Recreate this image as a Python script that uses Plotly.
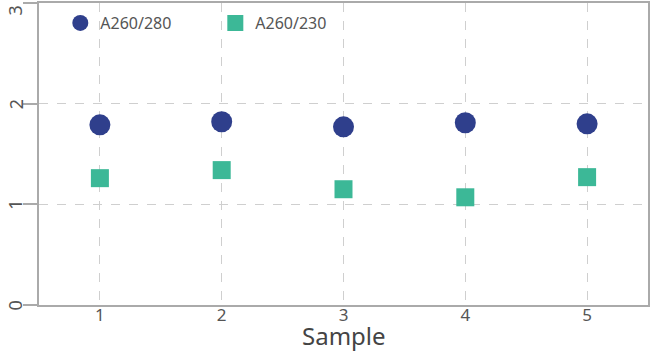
import plotly.graph_objects as go

samples = [1, 2, 3, 4, 5]
a260_280 = [1.79, 1.82, 1.77, 1.81, 1.80]
a260_230 = [1.26, 1.34, 1.15, 1.07, 1.27]
y_ticks = [0, 1, 2, 3]

navy = "#2f3f8c"
teal = "#3cb897"
font = "Noto Sans"

fig = go.Figure()
fig.add_trace(go.Scatter(x=samples, y=a260_280, mode="markers", name="A260/280",
                         marker=dict(symbol="circle", size=21, color=navy)))
fig.add_trace(go.Scatter(x=samples, y=a260_230, mode="markers", name="A260/230",
                         marker=dict(symbol="square", size=18, color=teal)))

fig.update_layout(
    width=650, height=354,
    margin=dict(l=39, r=2, t=3, b=49),
    paper_bgcolor="white", plot_bgcolor="white",
    font=dict(family=font, color="#555555", size=16),
    legend=dict(orientation="h", x=0.035, y=0.99, xanchor="left", yanchor="top",
                bgcolor="rgba(0,0,0,0)", font=dict(size=16, color="#555555"),
                entrywidth=110, entrywidthmode="pixels"),
    xaxis=dict(range=[0.5, 5.5], tickvals=samples, ticks="", showline=True,
               linecolor="#aaaaaa", linewidth=1.5, mirror=True, automargin=False,
               showgrid=True, gridcolor="#cfcfcf", griddash="dash", gridwidth=1,
               zeroline=False, ticklabelstandoff=-6,
               tickfont=dict(size=17, color="#555555")),
    yaxis=dict(range=[0, 3], tickvals=y_ticks, ticks="outside", ticklen=14,
               tickcolor="#aaaaaa", tickwidth=1.5, showticklabels=False,
               automargin=False,
               showline=True, linecolor="#aaaaaa", linewidth=1.5, mirror=True,
               showgrid=True, gridcolor="#cfcfcf", griddash="dash", gridwidth=1,
               zeroline=False),
)

# y tick labels, rotated, drawn at the axis values (top one kept inside the page)
for v in y_ticks:
    top = v == max(y_ticks)
    fig.add_annotation(text=str(v), xref="paper", yref="y", x=-0.0386, y=v,
                       xanchor="center", yanchor="top" if top else "middle",
                       textangle=-90, showarrow=False,
                       font=dict(family=font, size=18, color="#555555"))

fig.add_annotation(text="Sample", xref="paper", yref="paper", x=0.5, y=-0.159,
                   xanchor="center", yanchor="bottom", showarrow=False, borderpad=0,
                   font=dict(family=font, size=24, color="#444444"))

fig.write_html("out.html")
